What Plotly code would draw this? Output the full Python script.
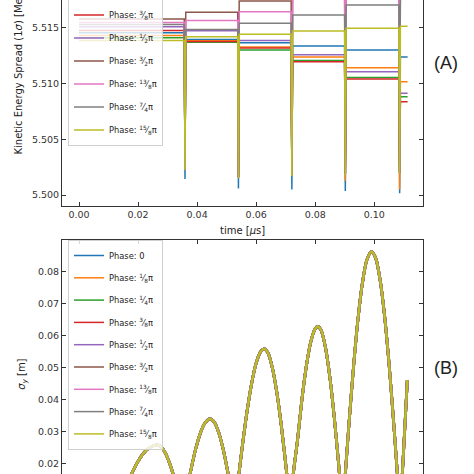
import plotly.graph_objects as go

# ---------------- data ----------------
phase_names = [
    "Phase: 0",
    "Phase: <sup>1</sup>⁄<sub>8</sub>π",
    "Phase: <sup>1</sup>⁄<sub>4</sub>π",
    "Phase: <sup>3</sup>⁄<sub>8</sub>π",
    "Phase: <sup>1</sup>⁄<sub>2</sub>π",
    "Phase: <sup>3</sup>⁄<sub>2</sub>π",
    "Phase: <sup>13</sup>⁄<sub>8</sub>π",
    "Phase: <sup>7</sup>⁄<sub>4</sub>π",
    "Phase: <sup>15</sup>⁄<sub>8</sub>π",
]
colors = ["#1f77b4", "#ff7f0e", "#2ca02c", "#d62728", "#9467bd",
          "#8c564b", "#e377c2", "#7f7f7f", "#bcbd22"]

# (A) kinetic energy spread: plateau level per interval, dip minimum per kick
t_start = 0.0
spike_times = [0.0359, 0.0540, 0.0721, 0.0902, 0.1086]
t_end = 0.1113
levels = [
    [5.51458, 5.51397, 5.51368, 5.51338, 5.51302, 5.51240],  # 0
    [5.51433, 5.51385, 5.51329, 5.51240, 5.51143, 5.51018],  # 1/8
    [5.51413, 5.51372, 5.51302, 5.51208, 5.51056, 5.50883],  # 1/4
    [5.51478, 5.51378, 5.51320, 5.51197, 5.51042, 5.50838],  # 3/8
    [5.51512, 5.51475, 5.51388, 5.51260, 5.51108, 5.50914],  # 1/2
    [5.51581, 5.51641, 5.51742, 5.51860, 5.51920, 5.51950],  # 3/2
    [5.51549, 5.51566, 5.51646, 5.51820, 5.51880, 5.51910],  # 13/8
    [5.51531, 5.51487, 5.51542, 5.51617, 5.51707, 5.51800],  # 7/4
    [5.51388, 5.51422, 5.51443, 5.51473, 5.51497, 5.51515],  # 15/8
]
dips = [
    [5.50144, 5.50060, 5.50051, 5.50036, 5.50016],
    [5.50230, 5.50160, 5.50180, 5.50129, 5.50051],
    [5.50230, 5.50160, 5.50180, 5.50190, 5.50200],
    [5.50230, 5.50160, 5.50180, 5.50190, 5.50200],
    [5.50230, 5.50160, 5.50180, 5.50190, 5.50200],
    [5.50230, 5.50160, 5.50180, 5.50190, 5.50200],
    [5.50230, 5.50160, 5.50180, 5.50190, 5.50200],
    [5.50230, 5.50160, 5.50180, 5.50190, 5.50200],
    [5.50225, 5.50150, 5.50171, 5.50180, 5.50195],
]

# (B) sigma_y vs time (identical for all phases)
t_sigma = [
    0.0000, 0.0030, 0.0060, 0.0090, 0.0125,
    0.0150, 0.0165, 0.0180, 0.0200, 0.0220, 0.0240, 0.0264,
    0.0278, 0.0293, 0.0308, 0.0323, 0.0338, 0.0352,
    0.0365, 0.0379, 0.0395, 0.0410, 0.0425, 0.0444,
    0.0458, 0.0473, 0.0488, 0.0503, 0.0515, 0.0527,
    0.0542, 0.0555, 0.0570, 0.0585, 0.0600, 0.0615, 0.0627,
    0.0640, 0.0655, 0.0670, 0.0685, 0.0705, 0.0717,
    0.0725, 0.0740, 0.0755, 0.0770, 0.0785, 0.0800, 0.0809,
    0.0820, 0.0835, 0.0850, 0.0865, 0.0880, 0.0893,
    0.0902, 0.0915, 0.0930, 0.0945, 0.0960, 0.0975, 0.0991,
    0.1005, 0.1020, 0.1035, 0.1050, 0.1065, 0.1078, 0.1087,
    0.1095, 0.1104, 0.1112,
]
sigma_y = [
    0.0100, 0.0120, 0.0125, 0.0110, 0.0050,
    0.0108, 0.0141, 0.0171, 0.0206, 0.0233, 0.0250, 0.0258,
    0.0252, 0.0231, 0.0197, 0.0153, 0.0101, 0.0050,
    0.0114, 0.0179, 0.0244, 0.0292, 0.0324, 0.0339,
    0.0329, 0.0297, 0.0245, 0.0177, 0.0115, 0.0050,
    0.0169, 0.0267, 0.0368, 0.0452, 0.0514, 0.0550, 0.0559,
    0.0546, 0.0499, 0.0422, 0.0320, 0.0156, 0.0050,
    0.0160, 0.0272, 0.0400, 0.0505, 0.0581, 0.0622, 0.0629,
    0.0617, 0.0562, 0.0467, 0.0340, 0.0190, 0.0050,
    0.0167, 0.0331, 0.0505, 0.0653, 0.0766, 0.0838, 0.0864,
    0.0843, 0.0774, 0.0662, 0.0513, 0.0336, 0.0170, 0.0050,
    0.0167, 0.0320, 0.0461,
]

x_ticks = [0.00, 0.02, 0.04, 0.06, 0.08, 0.10]
yA_ticks = [5.500, 5.505, 5.510, 5.515]
yB_ticks = [0.02, 0.03, 0.04, 0.05, 0.06, 0.07, 0.08]

# ---------------- figure ----------------
W = H = 474
fig = go.Figure()
half = 0.00025

for i, name in enumerate(phase_names):
    lv, dp = levels[i], dips[i]
    xs, ys = [t_start], [lv[0]]
    for k, ts in enumerate(spike_times):
        xs += [ts - half, ts, ts + half]
        ys += [lv[k], dp[k], lv[k + 1]]
    xs.append(t_end)
    ys.append(lv[-1])
    fig.add_trace(go.Scatter(
        x=xs, y=ys, mode="lines", name=name,
        line=dict(color=colors[i], width=1.5),
        xaxis="x", yaxis="y", legend="legend", legendgroup="a%d" % i))

for i, name in enumerate(phase_names):
    last = i == len(phase_names) - 1
    fig.add_trace(go.Scatter(
        x=t_sigma, y=sigma_y, mode="lines", name=name, showlegend=False,
        line=dict(color=colors[i], width=2.3 if last else 2.8,
                  shape="spline", smoothing=0.8),
        xaxis="x2", yaxis="y2", legendgroup="b%d" % i))
    # thin legend sample
    fig.add_trace(go.Scatter(
        x=[None], y=[None], mode="lines", name=name,
        line=dict(color=colors[i], width=1.5),
        xaxis="x2", yaxis="y2", legend="legend2", legendgroup="b%d" % i))

tickfont = dict(family="DejaVu Sans", size=9.5, color="#333333")
axcommon = dict(showgrid=False, zeroline=False, showline=True,
                linecolor="#333333", linewidth=1, ticks="inside",
                ticklen=4, tickcolor="#333333", tickfont=tickfont)

xdom = [62 / W, 423.3 / W]
fig.update_layout(
    width=W, height=H,
    margin=dict(l=0, r=0, t=0, b=0, autoexpand=False),
    paper_bgcolor="white", plot_bgcolor="white",
    xaxis=dict(domain=xdom, anchor="y", range=[-0.00576, 0.11661],
               tickvals=x_ticks, tickformat=".2f", mirror=False, **axcommon),
    yaxis=dict(domain=[1 - 206 / H, 1], anchor="x", range=[5.49902, 5.51751],
               tickvals=yA_ticks, tickformat=".3f", mirror="ticks", **axcommon),
    xaxis2=dict(domain=xdom, anchor="y2", range=[-0.00576, 0.11661],
                tickvals=x_ticks, side="top", showticklabels=False,
                mirror=False, **axcommon),
    yaxis2=dict(domain=[0, 1 - 240 / H], anchor="x2", range=[0.01664, 0.09003],
                tickvals=yB_ticks, tickformat=".2f", mirror="ticks", **axcommon),
    showlegend=True,
    legend=dict(x=68 / W, y=1 + 69.5 / H, xanchor="left", yanchor="top",
                bgcolor="rgba(255,255,255,0.8)", bordercolor="#d0d0d0",
                borderwidth=1, traceorder="grouped", tracegroupgap=4,
                font=dict(family="DejaVu Sans", size=8.3, color="#222222")),
    legend2=dict(x=68 / W, y=1 - 240 / H, xanchor="left", yanchor="top",
                 bgcolor="rgba(255,255,255,0.8)", bordercolor="#d0d0d0",
                 borderwidth=1, traceorder="grouped", tracegroupgap=3.3,
                 font=dict(family="DejaVu Sans", size=8.3, color="#222222")),
)

titlefont = dict(family="DejaVu Sans", size=10, color="#222222")
fig.add_annotation(text="Kinetic Energy Spread (1<i>σ</i>) [MeV]", textangle=-90,
                   x=18 / W, y=1 - 71.5 / H, xref="paper", yref="paper",
                   xanchor="center", yanchor="middle",
                   showarrow=False, font=titlefont)
fig.add_annotation(text="time [<i>μ</i>s]", x=242.5 / W, y=1 - 230 / H,
                   xanchor="center", yanchor="middle",
                   xref="paper", yref="paper", showarrow=False, font=titlefont)
fig.add_annotation(text="<i>σ<sub>y</sub></i> [m]", textangle=-90,
                   x=21.7 / W, y=1 - 374 / H, xref="paper", yref="paper",
                   xanchor="center", yanchor="middle",
                   showarrow=False, font=titlefont)
labfont = dict(family="Liberation Sans", size=18, color="#222222")
fig.add_annotation(text="(A)", x=446 / W, y=1 - 63 / H, xref="paper",
                   yref="paper", xanchor="center", yanchor="middle",
                   showarrow=False, font=labfont)
fig.add_annotation(text="(B)", x=446 / W, y=1 - 368 / H, xref="paper",
                   yref="paper", xanchor="center", yanchor="middle",
                   showarrow=False, font=labfont)

fig.write_html("out.html")
